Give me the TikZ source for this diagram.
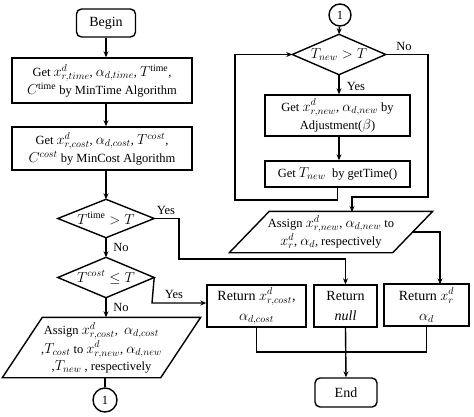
\documentclass[tikz,border=0pt]{standalone}
\usepackage{fontspec}
\setmainfont{Liberation Serif}
\usetikzlibrary{arrows.meta,calc}
\newcommand{\mm}[1]{{\fontsize{14}{15}\selectfont$#1$}}
\begin{document}
\begin{tikzpicture}[x=1pt,y=-1pt, line width=1.4pt,
  >={Stealth[length=6pt,width=5pt]},
  txt/.style={align=center, inner sep=0pt, font=\fontsize{12.5}{18}\selectfont},
  box/.style={txt, draw, rectangle},
  term/.style={txt, draw, rectangle, rounded corners=5pt, font=\fontsize{14}{16}\selectfont},
  ret/.style={txt, draw, rectangle, font=\fontsize{14}{20}\selectfont},
  lbl/.style={font=\fontsize{12.5}{14}\selectfont, inner sep=0pt},
  conn/.style={draw, circle, inner sep=0pt, font=\fontsize{12.5}{14}\selectfont}
]
\useasboundingbox (0,0) rectangle (474,416);

% left column
\node[term, minimum width=59pt, minimum height=28pt] (begin) at (106,23) {Begin};
\node[box, minimum width=180pt, minimum height=45pt] (b1) at (102,80.5)
  {Get \mm{x^d_{r,time}}, \mm{\alpha_{d,time}}, \mm{T^{\mathrm{time}}},\\ \mm{C^{\mathrm{time}}} by MinTime Algorithm};
\node[box, minimum width=180pt, minimum height=43pt] (b2) at (102,148.5)
  {Get \mm{x^d_{r,cost}}, \mm{\alpha_{d,cost}}, \mm{T^{cost}},\\ \mm{C^{cost}} by MinCost Algorithm};
\node[txt, minimum width=95pt, minimum height=37pt] (d1) at (106,218.5) {\mm{T^{\mathrm{time}} > T}};
\draw (d1.north) -- (d1.east) -- (d1.south) -- (d1.west) -- cycle;
\node[txt, minimum width=95pt, minimum height=39pt] (d2) at (106,277.5) {\mm{T^{cost} \le T}};
\draw (d2.north) -- (d2.east) -- (d2.south) -- (d2.west) -- cycle;
\node[txt, minimum width=197pt, minimum height=59pt, font=\fontsize{12.5}{17}\selectfont] (p1) at (101.5,347.5)
  {Assign \mm{x^d_{r,cost}},\ \ \mm{\alpha_{d,cost}}\\ ,\mm{T_{cost}} to \mm{x^d_{r,new}}, \mm{\alpha_{d,new}}\\ ,\mm{T_{new}} , respectively};
\draw (p1.south west) -- ($(p1.north west)+(40,0)$) -- (p1.north east) -- ($(p1.south east)+(-40,0)$) -- cycle;
\node[conn, minimum size=24pt] (c1) at (105,400) {1};

% right column
\node[conn, minimum size=22pt] (c2) at (340,15) {1};
\node[txt, minimum width=92pt, minimum height=39pt] (d3) at (339,54.5) {\mm{T_{new} > T}};
\draw (d3.north) -- (d3.east) -- (d3.south) -- (d3.west) -- cycle;
\node[box, minimum width=145pt, minimum height=41pt] (b3) at (337.5,115.5)
  {Get \mm{x^d_{r,new}}, \mm{\alpha_{d,new}} by\\ Adjustment(\mm{\beta})};
\node[box, minimum width=145pt, minimum height=26pt] (b4) at (337.5,174)
  {Get \mm{T_{new}}\ \ by getTime()};
\node[txt, minimum width=202pt, minimum height=40pt] (p2) at (331,232)
  {Assign \mm{x^d_{r,new}}, \mm{\alpha_{d,new}} to\\ \mm{x^d_r}, \mm{\alpha_d}, respectively};
\draw (p2.south west) -- ($(p2.north west)+(40,0)$) -- (p2.north east) -- ($(p2.south east)+(-40,0)$) -- cycle;
\coordinate (p2r) at ($(p2.east)+(-20,0)$);

\node[ret, minimum width=99pt, minimum height=42pt] (rA) at (256.5,306) {Return \mm{x^d_{r,cost}},\\ \mm{\alpha_{d,cost}}};
\node[ret, minimum width=63pt, minimum height=42pt] (rB) at (345.5,306) {Return\\ \textit{null}};
\node[ret, minimum width=85pt, minimum height=42pt] (rC) at (426.5,305) {Return \mm{x^d_r}\\ \mm{\alpha_d}};
\node[term, minimum width=62pt, minimum height=29pt] (end) at (346,392.5) {End};

% connectors left
\draw[->] (begin) -- (begin |- b1.north);
\draw[->] (b1.south -| begin) -- (b2.north -| begin);
\draw[->] (b2.south -| begin) -- (d1.north);
\draw[->] (d1.south) -- (d2.north);
\node[lbl] (no1) at (121,247) {No};
\draw[->] (d1.east) -- (179,218.5) -- (179,259) -| (rB.north);
\node[lbl] (yes1) at (166,210) {Yes};
\draw[->] (d2.south) -- (d2.south |- p1.north);
\node[lbl] (no2) at (121,307) {No};
\draw[->] (d2.east) -- (152,303) -- (rA.west |- 0,303);
\node[lbl] (yes2) at (174,294) {Yes};
\draw (p1.south -| c1) -- (c1);

% connectors right
\draw[->] (c2) -- (d3.north);
\draw[->] (d3.south) -- (b3.north -| d3.south);
\node[lbl] (yes3) at (356,86) {Yes};
\draw[->] (b3.south -| d3.south) -- (b4.north -| d3.south);
\draw[->] (b4.south) -- (337.5,200) -- (235,200) -- (235,54.5) -- (d3.west);
\draw[->] (d3.east) -- (428,54.5) -- (428,197) -- (352,197) -- (352,212);
\node[lbl] (no3) at (404,46) {No};
\draw[->] (p2r) -- (440,232) -- (440,284.3);

% merge
\coordinate (m) at (345.5,352);
\draw (rA.south) |- (m);
\draw (rC.south) |- (m);
\draw[->] (rB.south) -- (end.north);
\end{tikzpicture}
\end{document}
